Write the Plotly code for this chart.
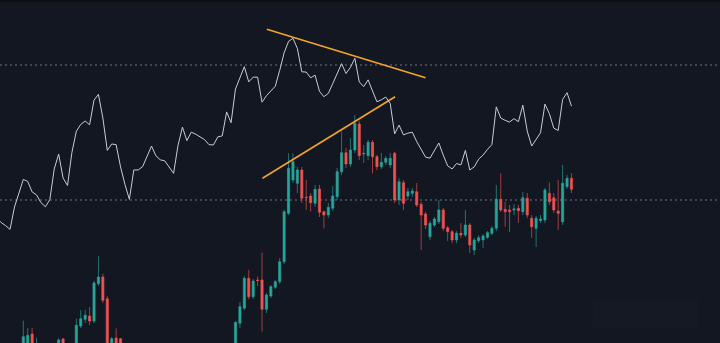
import plotly.graph_objects as go

# ---------------- data ----------------
# candle bar index (only bars whose bodies/wicks are visible)
bar_idx = [0, 1, 2, 3, 8, 9, 12, 13, 14, 15, 16, 17, 18, 19, 20, 21, 22] + list(range(48, 125))

opens = [-8, -6, 9, -8, -8, 4, -8, 17, 23.7, 27, 22, 59.3, 66, 44.3, -8, 5, 4.3,
         -8, 19.7, 34.7, 64.7, 46.3, 63, 63, 33.7, 47, 55.7, 61.3, 81.3, 129.7, 163, 159.7, 173,
         145.7, 147, 139.7, 154, 131.3, 128, 134.7, 146.3, 171.3, 190.3, 179, 193, 219, 189,
         187.3, 200.7, 186.3, 176.3, 180.7, 178, 189.7, 143, 160.3, 147, 149.7, 151.3, 138.7,
         129, 106.3, 118, 121.3, 133, 115.3, 111.3, 103, 109.7, 108, 118, 93, 102.3, 103,
         105.7, 109.7, 114.7, 143.7, 133.7, 133, 133, 134.7, 131.3, 144.7, 124.7, 114.7,
         122.3, 123, 149.7, 145.3, 132, 121.3, 156.3, 164.7]
highs = [22.3, 15, 15, 5.3, 5, 5, 24.3, 33, 33.3, 36, 62, 86.7, 69.3, 47, 6, 14.7, 5,
         21.5, 41, 66.7, 73, 64, 66.3, 90.3, 50, 58, 63, 85, 133, 189.7, 189.7, 176, 176,
         163, 150, 158, 158, 132, 140, 157, 175, 211.3, 195, 204.7, 228, 222, 198,
         203, 203, 188, 190, 187, 190, 191.3, 165, 163, 155, 155, 160, 141,
         131, 122, 126, 143, 135, 117, 113, 112, 120, 133, 120, 105, 108, 109,
         112, 117, 158, 169.7, 141.3, 138, 139, 138, 151, 150, 128, 127,
         128, 155, 160.7, 150, 163, 178, 168, 170]
lows = [-12, -10, -10, -12, -12, -12, -12, 15, 20, 18, 20, 57, 40, -12, -12, -12, -12,
        -12, 15, 33, 43.7, 44, 57, 11.3, 30, 45, 54, 59, 79, 128, 160, 150, 140,
        133, 131.7, 136, 126, 114.7, 125, 132, 143, 168, 175, 176, 190, 183, 180,
        183, 169.7, 173, 174, 178, 175, 140, 138, 133, 143, 146, 136, 93,
        114, 103, 116, 119, 112, 102, 100, 100, 105, 106, 90, 88, 100, 95,
        104, 108, 112, 131, 116.3, 111, 128, 120, 128, 125, 105, 96,
        120, 120, 138, 130, 113, 118, 154, 150]
closes = [6.3, 7.7, -6, -2, 3, -6, 17.7, 24.3, 27.7, 22, 60, 66, 42.7, -6, 4.3, -6, -6,
          20.7, 36.3, 64.7, 46.3, 62, 62.5, 33.7, 48, 56.3, 61.3, 81.3, 131.3, 174.7, 181.3, 173, 144.7,
          145.3, 140.3, 153.7, 130.7, 128, 135.7, 147, 171.3, 190.3, 179, 193, 219.7, 187.3, 189.6,
          200.7, 186.3, 176.3, 180.7, 184.7, 184.7, 143, 161.3, 139.7, 151.3, 152, 138, 128,
          118, 119.7, 124, 133, 114.7, 111.3, 103, 109.7, 108, 118, 98, 103, 105.3, 107,
          110.3, 114.7, 143.7, 133, 131.3, 131.3, 134, 132.3, 145.3, 128, 116.3, 124.7,
          124, 153, 141.3, 133, 129.7, 159.7, 164.7, 153.7]

# RSI-style oscillator, one value per bar from bar -6 to bar 124
rsi_start = -6
rsi_vals = [24.7, 23.3, 22.4, 21.3, 27.9, 32.1,
            36.1, 35.5, 32.4, 31.5, 29.2, 28.0, 30.1, 39.2, 43.6, 36.5,
            34.3, 44.1, 50.4, 52.4, 53.4, 52.3, 59.6, 61.3, 54.3, 44.7,
            46.6, 46.4, 39.8, 34.6, 30.2, 38.9, 38.9, 39.9, 42.8, 46.0,
            43.1, 41.9, 41.6, 39.9, 37.9, 46.2, 51.6, 47.6, 50.1, 49.5,
            48.8, 47.9, 46.4, 46.3, 48.7, 49.0, 56.1, 52.9, 62.9, 66.0,
            69.5, 65.0, 66.4, 66.4, 59.0, 60.9, 62.3, 63.7, 68.4, 73.6,
            77.0, 77.9, 74.9, 68.0, 67.9, 66.2, 67.0, 62.2, 60.6, 61.6,
            64.5, 67.5, 70.4, 67.5, 69.3, 72.0, 65.0, 63.6, 65.6, 62.3,
            59.1, 59.7, 60.5, 58.6, 49.6, 52.2, 49.3, 49.8, 50.1, 47.3,
            45.0, 42.7, 42.4, 44.7, 46.9, 43.3, 40.1, 39.2, 40.8, 40.4,
            44.7, 38.9, 39.8, 42.1, 43.3, 45.0, 46.4, 57.6, 54.3, 53.6,
            53.1, 54.1, 53.2, 58.1, 50.4, 46.0, 48.0, 49.9, 58.4, 55.6,
            51.3, 50.6, 59.8, 61.8, 57.8]
rsi_x = list(range(rsi_start, rsi_start + len(rsi_vals)))

rsi_levels = [70, 30]

# hand-drawn trend lines (bar index, value)
upper_tl_x = [55.1, 91.0]
upper_tl_rsi = [80.6, 66.2]
lower_tl_x = [54.1, 84.1]
lower_tl_price = [164.7, 246.3]

# ---------------- style ----------------
BG = "#131722"
GREEN = "#26a69a"
RED = "#ef5350"
ORANGE = "#f5a524"

fig = go.Figure()

fig.add_trace(go.Candlestick(
    x=bar_idx, open=opens, high=highs, low=lows, close=closes,
    increasing=dict(fillcolor=GREEN, line=dict(color="rgba(38,166,154,0.65)", width=1)),
    decreasing=dict(fillcolor=RED, line=dict(color="rgba(239,83,80,0.65)", width=1)),
    whiskerwidth=0, yaxis="y", showlegend=False, hoverinfo="skip",
))

fig.add_trace(go.Scatter(
    x=rsi_x, y=rsi_vals, mode="lines", yaxis="y2",
    line=dict(color="#c9ccd3", width=1), showlegend=False, hoverinfo="skip",
))

fig.add_trace(go.Scatter(
    x=upper_tl_x, y=upper_tl_rsi, mode="lines", yaxis="y2",
    line=dict(color=ORANGE, width=1.6), showlegend=False, hoverinfo="skip",
))
fig.add_trace(go.Scatter(
    x=lower_tl_x, y=lower_tl_price, mode="lines", yaxis="y",
    line=dict(color=ORANGE, width=1.6), showlegend=False, hoverinfo="skip",
))

shapes = []
for lv in rsi_levels:
    shapes.append(dict(type="line", xref="paper", x0=0, x1=1, yref="y2", y0=lv, y1=lv,
                       line=dict(color="#70747e", width=1, dash="2px,3px"), layer="below"))
# faint watermark box bottom-right
shapes.append(dict(type="rect", xref="paper", yref="paper", x0=593/720, x1=698/720,
                   y0=1-327/343, y1=1-299/343, fillcolor="rgba(255,255,255,0.01)",
                   line=dict(width=0), layer="below"))
# thin darker strip at top
shapes.append(dict(type="rect", xref="paper", yref="paper", x0=0, x1=1,
                   y0=1-2/343, y1=1, fillcolor="#0d0e12", line=dict(width=0)))

axis_common = dict(showgrid=False, zeroline=False, showticklabels=False, showline=False,
                   ticks="", fixedrange=True)

fig.update_layout(
    width=720, height=343,
    margin=dict(l=0, r=0, t=0, b=0),
    paper_bgcolor=BG, plot_bgcolor=BG,
    xaxis=dict(range=[-5.27, 157.6], rangeslider=dict(visible=False), **axis_common),
    yaxis=dict(range=[0, 343], **axis_common),
    yaxis2=dict(range=[-12.37, 89.26], overlaying="y", **axis_common),
    shapes=shapes,
    boxgap=0.3,
)

fig.write_html("out.html", config={"displayModeBar": False})
